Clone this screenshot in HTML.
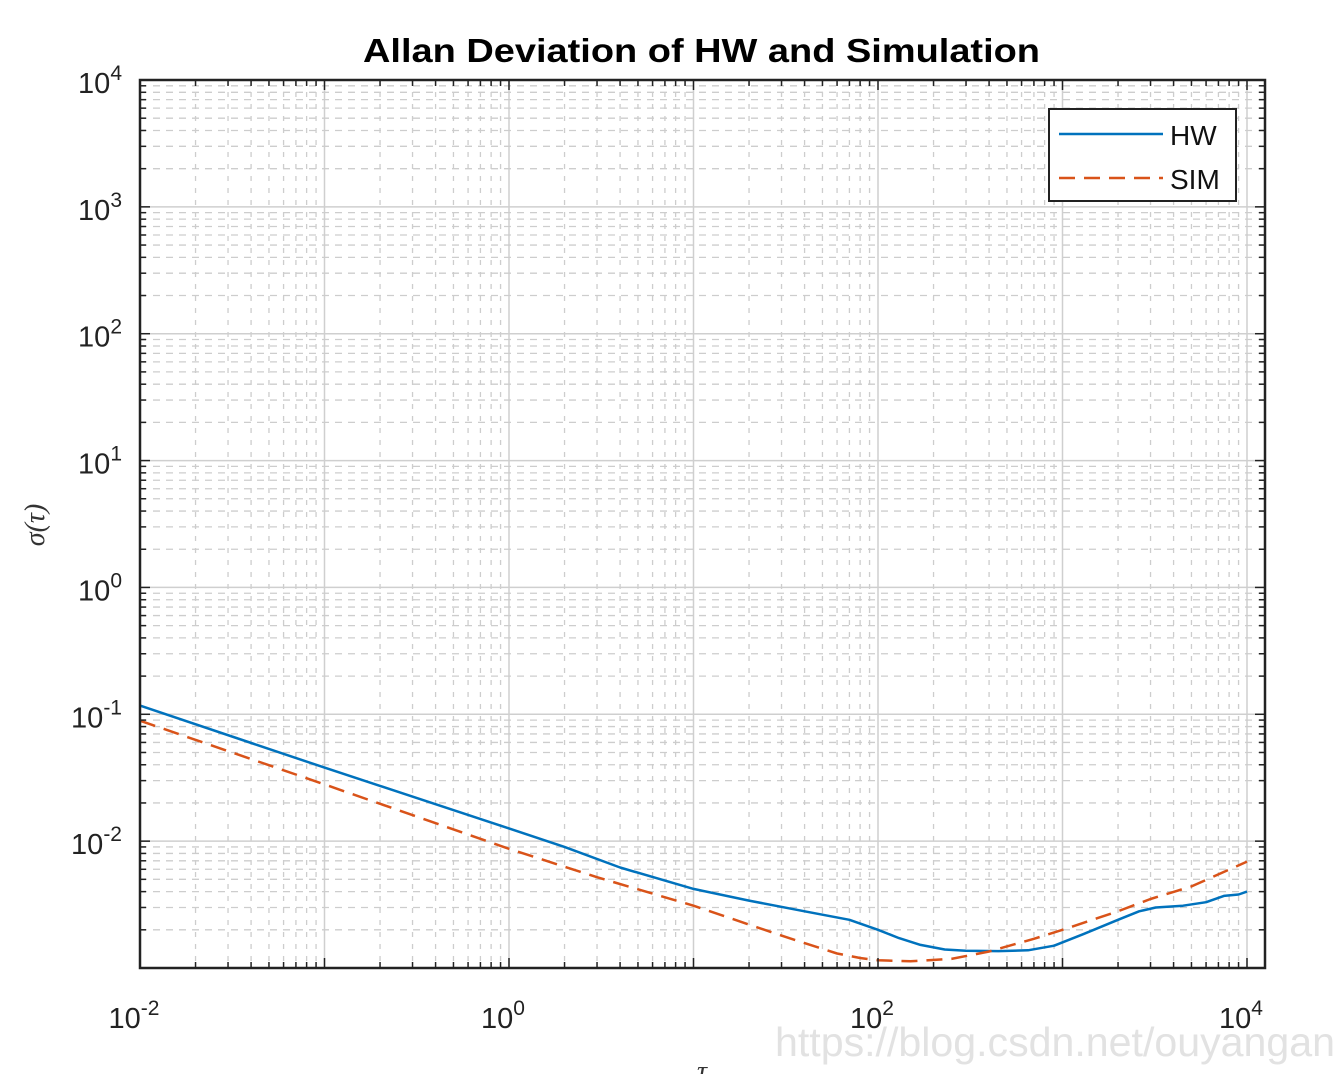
<!DOCTYPE html>
<html><head><meta charset="utf-8"><style>
body{margin:0;background:#fff;width:1338px;height:1074px;overflow:hidden;font-family:"Liberation Sans",sans-serif}
svg{display:block}
</style></head><body>
<svg id="chart" width="1338" height="1074">
<text x="363" y="62" font-size="33" font-weight="bold" textLength="677" lengthAdjust="spacingAndGlyphs" fill="#000">Allan Deviation of HW and Simulation</text>
<g id="grid"></g><g id="series"></g><g id="axes"></g>
<text transform="translate(44,525) rotate(-90)" text-anchor="middle" font-size="28" font-family="Liberation Serif,serif" font-style="italic" fill="#333">σ(τ)</text>
<text x="702" y="1080" text-anchor="middle" font-size="28" font-family="Liberation Serif,serif" font-style="italic" fill="#333">τ</text>
<g>
<rect x="1049" y="109" width="187" height="92" fill="#fff" stroke="#222" stroke-width="2"/>
<line x1="1059" y1="134" x2="1163" y2="134" stroke="#0072bd" stroke-width="2.5"/>
<text x="1170" y="145" font-size="28" fill="#111">HW</text>
<line x1="1059" y1="178" x2="1163" y2="178" stroke="#d95319" stroke-width="2.5" stroke-dasharray="16,9"/>
<text x="1170" y="189" font-size="28" fill="#111">SIM</text>
</g>
<g id="labels"></g>
<text x="775" y="1056" font-size="41" textLength="560" lengthAdjust="spacingAndGlyphs" fill="#e2e2e2">https://blog.csdn.net/ouyangan</text>
</svg>
<script>
const hwTau=[0.01,0.1,1,2,4,10,20,40,70,100,130,170,230,300,450,650,900,1300,2000,2600,3200,4500,6000,7500,9000,10000];
const hwVal=[0.117,0.038,0.0126,0.0090,0.0062,0.0042,0.0034,0.0028,0.0024,0.0020,0.00172,0.00152,0.00140,0.00137,0.00136,0.00138,0.00150,0.00185,0.0024,0.0028,0.0030,0.0031,0.0033,0.0037,0.0038,0.0040];
const simTau=[0.01,0.1,1,3,10,30,60,80,100,150,250,400,700,1000,2000,3000,5000,10000];
const simVal=[0.089,0.028,0.0087,0.0052,0.0031,0.0018,0.00130,0.00120,0.00115,0.00113,0.00118,0.00135,0.0017,0.0020,0.0028,0.0035,0.0044,0.0069];
const xTicks=[-2,0,2,4];
const yTicks=[-2,-1,0,1,2,3,4];
const L=140,R=1265,T=80,B=968;
const X0=140,XD=184.5;
function xs(v){return X0+(Math.log10(v)+2)*XD;}
function ys(v){return T+(4-Math.log10(v))*(B-T)/7;}
const NS='http://www.w3.org/2000/svg';
function mk(tag,attrs,parent){const e=document.createElementNS(NS,tag);for(const k in attrs)e.setAttribute(k,attrs[k]);parent.appendChild(e);return e;}
const grid=document.getElementById('grid'),axes=document.getElementById('axes'),ser=document.getElementById('series'),labs=document.getElementById('labels');
mk('rect',{x:L,y:T,width:R-L,height:B-T,fill:'#fff'},grid);
for(let d=-2;d<=4;d++){for(let m=1;m<=9;m++){const v=m*Math.pow(10,d);const x=xs(v);if(x>R)continue;
const ln=mk('line',{x1:x,y1:T,x2:x,y2:B,stroke:m==1?'#cfcfcf':'#cdcdcd','stroke-width':m==1?1.5:1.3,'stroke-dasharray':m==1?'':'5,7'},grid);

mk('line',{x1:x,y1:B,x2:x,y2:B-(m==1?10:6),stroke:'#222','stroke-width':1.5},axes);
mk('line',{x1:x,y1:T,x2:x,y2:T+(m==1?10:6),stroke:'#222','stroke-width':1.5},axes);}}
for(let d=-3;d<4;d++){for(let m=1;m<=9;m++){const v=m*Math.pow(10,d);const y=ys(v);
const ln=mk('line',{x1:L,y1:y,x2:R,y2:y,stroke:m==1?'#cfcfcf':'#cdcdcd','stroke-width':m==1?1.5:1.3,'stroke-dasharray':m==1?'':'7,6'},grid);

mk('line',{x1:L,y1:y,x2:L+(m==1?10:6),y2:y,stroke:'#222','stroke-width':1.5},axes);
mk('line',{x1:R,y1:y,x2:R-(m==1?10:6),y2:y,stroke:'#222','stroke-width':1.5},axes);}}
const box=mk('rect',{x:L,y:T,width:R-L,height:B-T,fill:'none',stroke:'#222','stroke-width':2.5},axes);

xTicks.forEach(t=>{const x=xs(Math.pow(10,t));const tx=mk('text',{x:x-6,y:1028,'text-anchor':'middle','font-size':29,fill:'#222'},labs);

tx.innerHTML='10<tspan dy="-13" font-size="21">'+t+'</tspan>';});
yTicks.forEach(t=>{const y=ys(Math.pow(10,t));const tx=mk('text',{x:122,y:y+13,'text-anchor':'end','font-size':29,fill:'#222'},labs);

tx.innerHTML='10<tspan dy="-13" font-size="21">'+t+'</tspan>';});
function path(tau,val){return tau.map((t,i)=>(i?'L':'M')+xs(t).toFixed(1)+','+ys(val[i]).toFixed(1)).join(' ');}
const hw=mk('path',{d:path(hwTau,hwVal),fill:'none',stroke:'#0072bd','stroke-width':2.5,'stroke-linejoin':'round'},ser);

const sim=mk('path',{d:path(simTau,simVal),fill:'none',stroke:'#d95319','stroke-width':2.5,'stroke-dasharray':'16,9','stroke-linejoin':'round'},ser);

</script>
</body></html>
